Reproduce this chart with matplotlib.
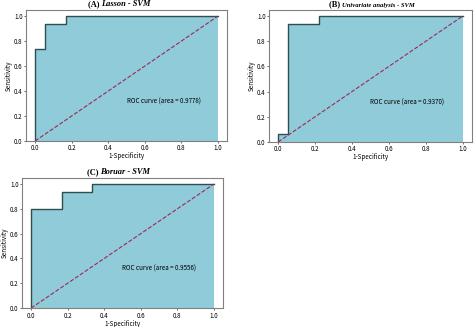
import numpy as np
import matplotlib
matplotlib.use("Agg")
import matplotlib.pyplot as plt

# ROC curves (false positive rate / true positive rate) for the three models
fpr_lasso = [0.0, 0.0, 1/18, 1/18, 3/18, 3/18, 1.0]
tpr_lasso = [0.0, 11/15, 11/15, 14/15, 14/15, 1.0, 1.0]
auc_lasso = 0.9778

fpr_uni = [0.0, 0.0, 1/18, 1/18, 4/18, 4/18, 1.0]
tpr_uni = [0.0, 1/15, 1/15, 14/15, 14/15, 1.0, 1.0]
auc_uni = 0.9370

fpr_bor = [0.0, 0.0, 3/18, 3/18, 6/18, 6/18, 1.0]
tpr_bor = [0.0, 12/15, 12/15, 14/15, 14/15, 1.0, 1.0]
auc_bor = 0.9556

# tag, model name, data, axes rect, title anchor, name font size
panels = [
    ("(A)", "Lasson - SVM", fpr_lasso, tpr_lasso, auc_lasso,
     [0.0549, 0.569, 0.424, 0.4006], 0.375, 6.0),
    ("(B)", "Univariate analysis - SVM", fpr_uni, tpr_uni, auc_uni,
     [0.5675, 0.566, 0.428, 0.404], 0.36, 4.8),
    ("(C)", "Boruar - SVM", fpr_bor, tpr_bor, auc_bor,
     [0.0464, 0.058, 0.424, 0.398], 0.39, 6.0),
]

plt.rcParams['font.family'] = ['Noto Sans CJK SC', 'DejaVu Sans']

fig = plt.figure(figsize=(4.74, 3.27), dpi=100)

fill_color = '#8fcbd9'
edge_color = '#2f4f4f'

for tag, name, fpr, tpr, auc, pos, tx, nsize in panels:
    ax = fig.add_axes(pos)
    ax.fill_between(fpr, tpr, color=fill_color, linewidth=0)
    ax.plot(fpr, tpr, color=edge_color, lw=1.0)
    ax.plot([0, 1], [0, 1], color='#9a2a55', lw=0.8, linestyle='--')
    ax.text(0.5, 0.3, 'ROC curve (area = %0.4f)' % auc, fontsize=4.5)
    ax.set_xlim(-0.05, 1.05)
    ax.set_ylim(0, 1.05)
    ax.set_xticks(np.arange(0, 1.01, 0.2))
    ax.set_yticks(np.arange(0, 1.01, 0.2))
    ax.tick_params(labelsize=4.5, length=1.5, width=0.6, pad=1, color='#555555')
    ax.set_xlabel('1-Specificity', fontsize=4.5, labelpad=0)
    ax.set_ylabel('Sensitivity', fontsize=4.5, labelpad=1)
    for sp in ax.spines.values():
        sp.set_color('#808080')
        sp.set_linewidth(0.8)
    # two-part title: bold panel tag + bold italic model name
    ax.text(tx, 1.015, tag + ' ', transform=ax.transAxes, ha='right', va='bottom',
            family='Liberation Serif', fontweight='bold', fontsize=6.0)
    ax.text(tx, 1.015, name, transform=ax.transAxes, ha='left', va='bottom',
            family='Liberation Serif', fontweight='bold', style='italic', fontsize=nsize)

fig.savefig('out.png', dpi=100)
